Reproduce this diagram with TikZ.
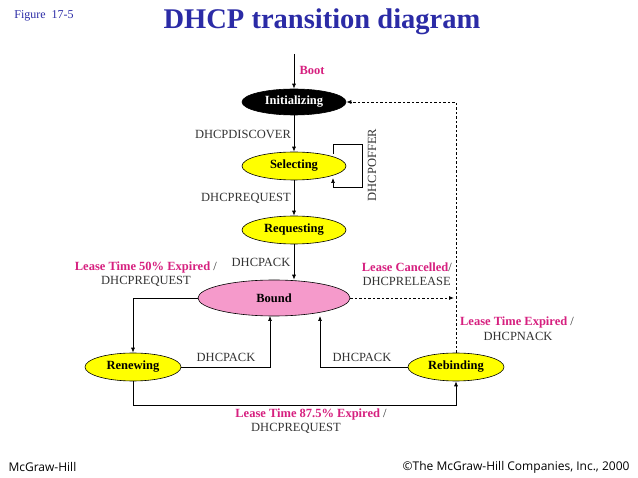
\documentclass[tikz,border=0pt]{standalone}
\usepackage{fontspec}
\setmainfont{Liberation Serif}
\newfontfamily\footfont{Open Sans}
\usetikzlibrary{shapes.geometric,arrows.meta}
\definecolor{mag}{HTML}{D6207F}
\definecolor{ttl}{HTML}{2B2BA6}
\definecolor{yel}{HTML}{FFFF00}
\definecolor{pnk}{HTML}{F59ACB}
\tikzset{
  st/.style={ellipse,draw=black,line width=0.6pt,inner sep=0pt,font=\bfseries\fontsize{12.5}{14}\selectfont},
  ys/.style={st,fill=yel,minimum width=104pt,minimum height=28pt},
  lbl/.style={font=\fontsize{12.5}{14}\selectfont,text=black!80,inner sep=0pt},
  ml/.style={font=\bfseries\fontsize{12.5}{14}\selectfont,text=mag,inner sep=0pt},
  arr/.style={line width=0.7pt,-{Latex[length=5pt,width=4pt]}},
  dsh/.style={line width=0.8pt,dash pattern=on 2.5pt off 2pt}
}
\begin{document}
\begin{tikzpicture}[x=1pt,y=-1pt]
\useasboundingbox (0,0) rectangle (638,478);
\node[font=\fontsize{12}{13}\selectfont,text=ttl] (fig) at (44,16) {Figure\ \ 17-5};
\node[font=\bfseries\fontsize{28.5}{30}\selectfont,text=ttl] (title) at (322,22) {DHCP transition diagram};
\node[font=\footfont\fontsize{12}{13}\selectfont,anchor=west] (f1) at (5,467) {McGraw-Hill};
\node[font=\footfont\fontsize{12}{13}\selectfont,anchor=east] (f2) at (633,467) {©The McGraw-Hill Companies, Inc., 2000};

\node[st,fill=black,text=white,minimum width=104pt,minimum height=26pt] (init) at (294,102) {Initializing};
\node[ys] (sel) at (294,166) {Selecting};
\node[ys] (req) at (294,230) {Requesting};
\node[st,fill=pnk,minimum width=152pt,minimum height=36pt] (bound) at (274,298) {Bound};
\node[ys,minimum width=96pt] (ren) at (133,367) {Renewing};
\node[ys,minimum width=96pt] (reb) at (456,367) {Rebinding};

\coordinate (bt) at (294,54);
\draw[arr] (bt) -- (init);
\node[ml] (boot) at (312,70) {Boot};
\draw[arr] (init) -- (sel);
\node[lbl] (l1) at (243,134) {DHCPDISCOVER};
\draw[arr] (sel) -- (req);
\node[lbl] (l2) at (246,198) {DHCPREQUEST};
\draw[arr] (req.south) -- (req.south |- bound.north);
\node[lbl] (l3) at (261,262) {DHCPACK};

\coordinate (s1) at (333,154);
\coordinate (s2) at (333,178);
\draw[arr] (s1) -- (333,144) -- (362,144) -- (362,187) -- (333,187) -- (s2);
\node[lbl,rotate=90] (offer) at (372,165) {DHCPOFFER};

\draw[arr] (bound.west) -| (ren.north);
\node[ml,anchor=east] (a1) at (217,267) {Lease Time 50\% Expired \textcolor{black!80}{\mdseries/}};
\node[lbl] (a2) at (146,281) {DHCPREQUEST};

\draw[arr] (ren.east) -| (270,316);
\node[lbl] (a3) at (226,357) {DHCPACK};
\draw[arr] (reb.west) -| (320,316);
\node[lbl] (a4) at (362,357) {DHCPACK};

\draw[arr] (ren.south) -- (133,405) -| (reb.south);
\node[ml] (a5) at (311,414) {Lease Time 87.5\% Expired \textcolor{black!80}{\mdseries/}};
\node[lbl] (a6) at (296,428) {DHCPREQUEST};

\coordinate (d1) at (454,298);
\draw[dsh,-{Latex[length=5pt,width=4pt]}] (bound.east) -- (d1);
\draw[dsh,-{Latex[length=5pt,width=4pt]}] (reb.north) -- (456,102) -- (init.east);
\node[ml,anchor=east] (a7) at (452,267) {Lease Cancelled\textcolor{black!80}{\mdseries/}};
\node[lbl,anchor=east] (a8) at (451,281) {DHCPRELEASE};
\node[ml] (a9) at (517,322) {Lease Time Expired \textcolor{black!80}{\mdseries/}};
\node[lbl] (a10) at (518,336) {DHCPNACK};
\end{tikzpicture}
\end{document}
